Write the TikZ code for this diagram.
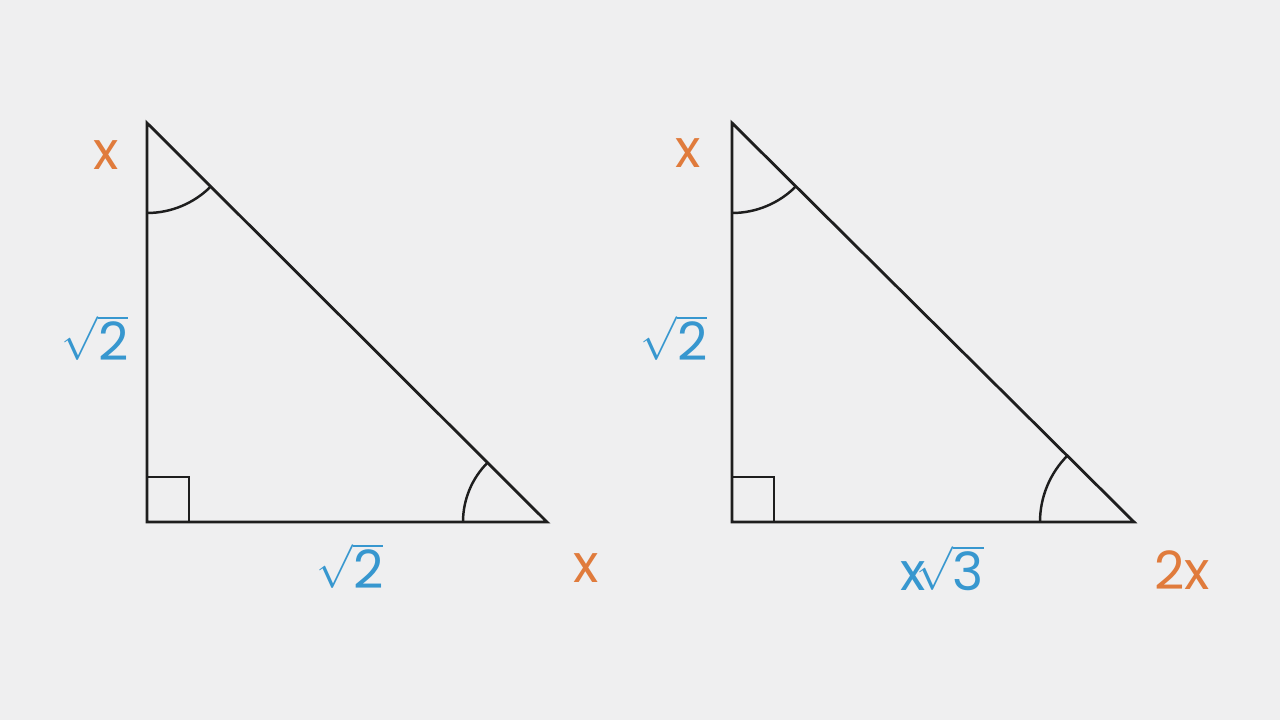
\documentclass[tikz,border=0pt]{standalone}
\usepackage{amsmath}
\usepackage{fontspec}
\setmainfont{Poppins}
\usepackage{xcolor}
\usepackage{tikz}
\usetikzlibrary{calc}
\definecolor{bg}{HTML}{EFEFF0}
\definecolor{ink}{HTML}{1E1E1E}
\definecolor{orng}{HTML}{E07B3C}
\definecolor{blu}{HTML}{3797CF}
\tikzset{
  side/.style={draw=ink, line width=1.6pt, line join=miter},
  angmark/.style={draw=ink, line width=1.4pt},
  vlab/.style={text=orng, font=\fontsize{30}{32}\selectfont, inner sep=0pt},
  slab/.style={text=blu, font=\fontsize{30}{32}\selectfont, inner sep=0pt},
}
\newcommand{\rt}[1]{$\sqrt{\text{#1}}$}

\begin{document}
\begin{tikzpicture}
  \fill[bg] (0,0) rectangle (25.6,14.4);
  \useasboundingbox (0,0) rectangle (25.6,14.4);
  % left triangle
  \coordinate (A1) at (2.94,11.94);
  \coordinate (B1) at (2.94,3.96);
  \coordinate (C1) at (10.94,3.96);
  \draw[side] (A1) -- (B1) -- (C1) -- cycle;
  \draw[angmark] ($(B1)+(0,0.9)$) -- ++(0.84,0) -- ++(0,-0.9);
  \draw[angmark] ($(A1)+(0,-1.8)$) arc (270:315:1.8);
  \draw[angmark] ($(C1)+(-1.68,0)$) arc (180:135:1.68);
  \node[vlab] (x1) at (2.12,11.3) {x};
  \node[slab] (s1) at (1.9,7.64) {\rt{2}};
  \node[slab] (s2) at (7.0,3.08) {\rt{2}};
  \node[vlab] (x2) at (11.72,3.04) {x};
  % right triangle
  \coordinate (A2) at (14.64,11.94);
  \coordinate (B2) at (14.64,3.96);
  \coordinate (C2) at (22.68,3.96);
  \draw[side] (A2) -- (B2) -- (C2) -- cycle;
  \draw[angmark] ($(B2)+(0,0.9)$) -- ++(0.84,0) -- ++(0,-0.9);
  \draw[angmark] ($(A2)+(0,-1.8)$) arc (270:315:1.8);
  \draw[angmark] ($(C2)+(-1.88,0)$) arc (180:135:1.88);
  \node[vlab] (x3) at (13.76,11.34) {x};
  \node[slab] (s3) at (13.48,7.64) {\rt{2}};
  \node[slab] (s4) at (18.84,3.04) {x\kern-5pt\rt{3}};
  \node[vlab] (x4) at (23.64,3.0) {2x};
\end{tikzpicture}
\end{document}
